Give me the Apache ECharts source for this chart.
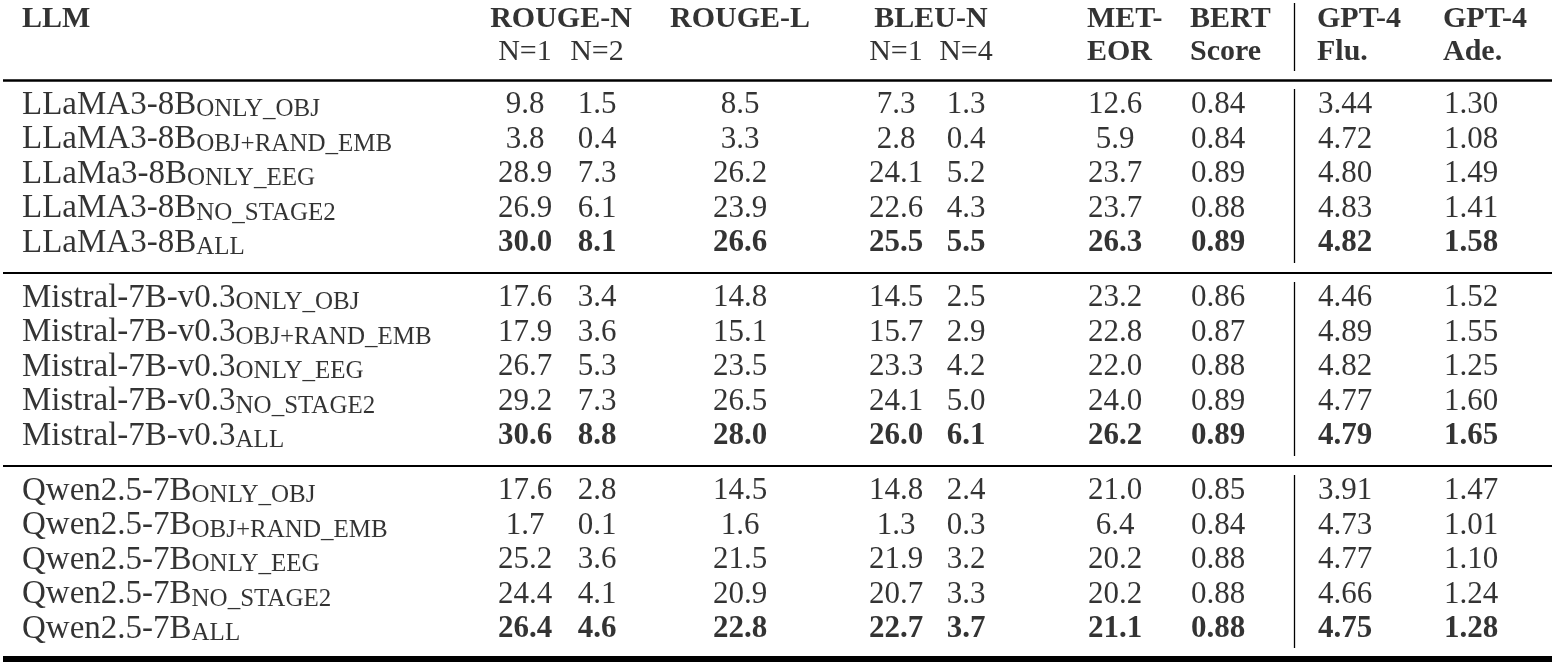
<!DOCTYPE html>
<html><head><meta charset="utf-8">
<script src="https://cdn.jsdelivr.net/npm/echarts@6/dist/echarts.min.js"></script>
<style>html,body{margin:0;padding:0;background:#fff}#c{width:1555px;height:662px}</style>
</head><body><div id="c"></div>
<script>
// ---------------- data ----------------
const models = [
  'LLaMA3-8B','LLaMA3-8B','LLaMa3-8B','LLaMA3-8B','LLaMA3-8B',
  'Mistral-7B-v0.3','Mistral-7B-v0.3','Mistral-7B-v0.3','Mistral-7B-v0.3','Mistral-7B-v0.3',
  'Qwen2.5-7B','Qwen2.5-7B','Qwen2.5-7B','Qwen2.5-7B','Qwen2.5-7B'
];
const variants = [
  'ONLY_OBJ','OBJ+RAND_EMB','ONLY_EEG','NO_STAGE2','ALL',
  'ONLY_OBJ','OBJ+RAND_EMB','ONLY_EEG','NO_STAGE2','ALL',
  'ONLY_OBJ','OBJ+RAND_EMB','ONLY_EEG','NO_STAGE2','ALL'
];
const rouge1    = [9.8,3.8,28.9,26.9,30.0, 17.6,17.9,26.7,29.2,30.6, 17.6,1.7,25.2,24.4,26.4];
const rouge2    = [1.5,0.4,7.3,6.1,8.1,    3.4,3.6,5.3,7.3,8.8,      2.8,0.1,3.6,4.1,4.6];
const rougeL    = [8.5,3.3,26.2,23.9,26.6, 14.8,15.1,23.5,26.5,28.0, 14.5,1.6,21.5,20.9,22.8];
const bleu1     = [7.3,2.8,24.1,22.6,25.5, 14.5,15.7,23.3,24.1,26.0, 14.8,1.3,21.9,20.7,22.7];
const bleu4     = [1.3,0.4,5.2,4.3,5.5,    2.5,2.9,4.2,5.0,6.1,      2.4,0.3,3.2,3.3,3.7];
const meteor    = [12.6,5.9,23.7,23.7,26.3, 23.2,22.8,22.0,24.0,26.2, 21.0,6.4,20.2,20.2,21.1];
const bertScore = [0.84,0.84,0.89,0.88,0.89, 0.86,0.87,0.88,0.89,0.89, 0.85,0.84,0.88,0.88,0.88];
const gpt4Flu   = [3.44,4.72,4.80,4.83,4.82, 4.46,4.89,4.82,4.77,4.79, 3.91,4.73,4.77,4.66,4.75];
const gpt4Ade   = [1.30,1.08,1.49,1.41,1.58, 1.52,1.55,1.25,1.60,1.65, 1.47,1.01,1.10,1.24,1.28];
const boldRows  = [4, 9, 14];   // the "ALL" rows are printed in bold

const headerLLM = 'LLM';
const headerTop = ['ROUGE-N','ROUGE-L','BLEU-N','MET-','BERT','GPT-4','GPT-4'];
const headerTopSpan = [[0,1],[2,2],[3,4],[5,5],[6,6],[7,7],[8,8]];
const headerSub = ['N=1','N=2','','N=1','N=4','EOR','Score','Flu.','Ade.'];
const headerSubBold = [false,false,false,false,false,true,true,true,true];

const metricColumns = [rouge1, rouge2, rougeL, bleu1, bleu4, meteor, bertScore, gpt4Flu, gpt4Ade];
const metricDecimals = [1,1,1,1,1,1,2,2,2];

// ---------------- layout (not data) ----------------
const LAY = {
  colX: [525, 597, 740, 896, 966, 1115, 1218, 1345, 1471],
  leftHeadCols: [5, 6, 7, 8],   // headers set flush-left over these columns
  leftHeadShift: 28,
  labelX: 22,
  head1Y: 19, head2Y: 52,
  row0: 105, rowStep: 34.6, groupStep: 193, groupSize: 5,
  rules: [[80, 2.5], [272.5, 1.8], [465.5, 1.8], [658.5, 6]],
  ruleX0: 3, ruleX1: 1552,
  vX: 1294,
  vSegs: [[3, 71], [89, 263], [282, 456], [475, 648]]
};
const FONT = "'Liberation Serif','Times New Roman',serif";
const rowY = i => LAY.row0 + Math.floor(i / LAY.groupSize) * LAY.groupStep + (i % LAY.groupSize) * LAY.rowStep;

const series = [];
metricColumns.forEach((col, c) => {
  series.push({
    type: 'scatter', symbolSize: 0, silent: true,
    itemStyle: { color: 'transparent' },
    data: col.map((v, i) => ({
      value: [LAY.colX[c], rowY(i)], v: v,
      label: { fontWeight: boldRows.includes(i) ? 'bold' : 'normal' }
    })),
    label: {
      show: true, position: 'inside', color: '#000',
      fontFamily: FONT, fontSize: 31, align: 'center', verticalAlign: 'middle',
      formatter: p => p.data.v.toFixed(metricDecimals[c])
    }
  });
});

// row labels (model name + small-caps subscript variant)
series.push({
  type: 'scatter', symbolSize: 0, silent: true,
  itemStyle: { color: 'transparent' },
  data: models.map((m, i) => ({ value: [LAY.labelX, rowY(i)], m: m, s: variants[i] })),
  label: {
    show: true, position: 'inside', align: 'left', verticalAlign: 'middle', color: '#000',
    formatter: p => '{m|' + p.data.m + '}{s|' + p.data.s + '}',
    rich: {
      m: { fontFamily: FONT, fontSize: 33, lineHeight: 34, color: '#000' },
      s: { fontFamily: FONT, fontSize: 25, lineHeight: 25, verticalAlign: 'bottom', color: '#000' }
    }
  }
});

// header cells
const headerData = [];
headerData.push({ value: [LAY.labelX, LAY.head1Y], t: headerLLM, label: { align: 'left', fontWeight: 'bold' } });
headerTop.forEach((t, k) => {
  const sp = headerTopSpan[k];
  const left = sp[0] === sp[1] && LAY.leftHeadCols.includes(sp[0]);
  const x = left ? LAY.colX[sp[0]] - LAY.leftHeadShift : (LAY.colX[sp[0]] + LAY.colX[sp[1]]) / 2;
  headerData.push({ value: [x, LAY.head1Y], t: t, label: { align: left ? 'left' : 'center', fontWeight: 'bold' } });
});
headerSub.forEach((t, c) => {
  if (!t) return;
  const left = LAY.leftHeadCols.includes(c);
  const x = left ? LAY.colX[c] - LAY.leftHeadShift : LAY.colX[c];
  headerData.push({ value: [x, LAY.head2Y], t: t, label: { align: left ? 'left' : 'center', fontWeight: headerSubBold[c] ? 'bold' : 'normal' } });
});

const ruleLines = LAY.rules.map(r => [
  { coord: [LAY.ruleX0, r[0]], lineStyle: { width: r[1], color: '#000', type: 'solid' } },
  { coord: [LAY.ruleX1, r[0]], lineStyle: { width: r[1], color: '#000', type: 'solid' } }
]);
const vLines = LAY.vSegs.map(s => [
  { coord: [LAY.vX, s[0]], lineStyle: { width: 1.3, color: '#000', type: 'solid' } },
  { coord: [LAY.vX, s[1]], lineStyle: { width: 1.3, color: '#000', type: 'solid' } }
]);

series.push({
  type: 'scatter', symbolSize: 0, silent: true,
  itemStyle: { color: 'transparent' },
  data: headerData,
  label: {
    show: true, position: 'inside', color: '#000',
    fontFamily: FONT, fontSize: 30, align: 'center', verticalAlign: 'middle',
    formatter: p => p.data.t
  },
  markLine: {
    silent: true, symbol: ['none', 'none'], animation: false,
    label: { show: false },
    lineStyle: { color: '#000', type: 'solid' },
    emphasis: { disabled: true },
    data: ruleLines.concat(vLines)
  }
});

const chart = echarts.init(document.getElementById('c'));
chart.setOption({
  animation: false,
  backgroundColor: '#fff',
  grid: { left: 0, right: 0, top: 0, bottom: 0 },
  xAxis: { type: 'value', min: 0, max: 1555, show: false },
  yAxis: { type: 'value', min: 0, max: 662, inverse: true, show: false },
  series: series
});
</script></body></html>
